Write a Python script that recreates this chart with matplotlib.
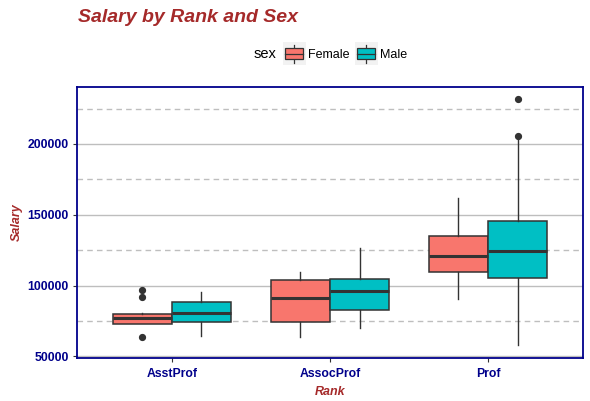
import matplotlib.pyplot as plt
from matplotlib.legend_handler import HandlerBase
from matplotlib.patches import Rectangle
from matplotlib.lines import Line2D

plt.rcParams['font.family'] = ['Liberation Sans', 'DejaVu Sans']

ranks = ['AsstProf', 'AssocProf', 'Prof']
sexes = ['Female', 'Male']
colors = ['#F8766D', '#00BFC4']

# box stats
female_q1 = [73200, 74000, 109900]
female_med = [77200, 91300, 120800]
female_q3 = [79800, 104200, 135200]
female_lo = [73200, 63400, 90600]
female_hi = [80700, 109900, 161500]
female_fliers = [[97200, 92300, 63400], [], []]

male_q1 = [74600, 83100, 105600]
male_med = [80700, 96200, 124200]
male_q3 = [88700, 104900, 145800]
male_lo = [64500, 70400, 58200]
male_hi = [95300, 126800, 205000]
male_fliers = [[], [], [231600, 205600]]

ink = '#333333'
navy = '#00008B'
brown = '#A52A2A'


def make_stats(q1, med, q3, lo, hi, fl):
    return [dict(q1=a, med=b, q3=c, whislo=d, whishi=e, fliers=f)
            for a, b, c, d, e, f in zip(q1, med, q3, lo, hi, fl)]


class BoxKey(HandlerBase):
    def create_artists(self, legend, orig_handle, xdescent, ydescent,
                       width, height, fontsize, trans):
        x0, y0 = -xdescent, -ydescent
        bg = Rectangle((x0, y0), width, height, facecolor='#F2F2F2',
                       edgecolor='none', transform=trans)
        vl = Line2D([x0 + width / 2] * 2, [y0 + height * 0.1, y0 + height * 0.9],
                    color=ink, lw=0.9, transform=trans)
        box = Rectangle((x0 + width * 0.12, y0 + height * 0.25), width * 0.76,
                        height * 0.5, facecolor=orig_handle.get_facecolor(),
                        edgecolor=ink, lw=0.9, transform=trans)
        md = Line2D([x0 + width * 0.12, x0 + width * 0.88], [y0 + height / 2] * 2,
                    color=ink, lw=0.9, transform=trans)
        return [bg, vl, box, md]


fig = plt.figure(figsize=(5.9, 4.01), dpi=100)
ax = fig.add_axes([0.1305, 0.108, 0.8575, 0.675])

all_stats = [make_stats(female_q1, female_med, female_q3, female_lo, female_hi, female_fliers),
             make_stats(male_q1, male_med, male_q3, male_lo, male_hi, male_fliers)]
offsets = [-0.1875, 0.1875]
for stats, off, col in zip(all_stats, offsets, colors):
    pos = [i + 1 + off for i in range(len(ranks))]
    ax.bxp(stats, positions=pos, widths=0.375, patch_artist=True, showcaps=False,
           boxprops=dict(facecolor=col, edgecolor=ink, lw=1.1),
           medianprops=dict(color=ink, lw=2.2),
           whiskerprops=dict(color=ink, lw=1.0),
           flierprops=dict(marker='o', markersize=4.2, markerfacecolor=ink,
                           markeredgecolor=ink),
           zorder=3)

ax.set_xlim(0.4, 3.6)
ax.set_ylim(49100, 240200)
ax.set_xticks([1, 2, 3])
ax.set_xticklabels(ranks)
ax.set_yticks([50000, 100000, 150000, 200000])
ax.set_yticks([75000, 125000, 175000, 225000], minor=True)
ax.grid(axis='y', which='major', color='#BEBEBE', lw=1.0, zorder=0)
ax.grid(axis='y', which='minor', color='#BEBEBE', lw=1.0, ls=(0, (4, 3)), zorder=0)
ax.grid(axis='x', which='major', color='white', lw=1.0, zorder=0)
ax.set_axisbelow(True)
ax.tick_params(axis='both', which='major', length=3, color=ink, width=0.8,
               labelsize=8.8, labelcolor=navy)
ax.tick_params(axis='x', pad=4.5)
ax.tick_params(axis='y', pad=3)
ax.tick_params(axis='y', which='minor', length=0)
for lab in ax.get_xticklabels() + ax.get_yticklabels():
    lab.set_fontweight('bold')
for sp in ax.spines.values():
    sp.set_color(navy)
    sp.set_linewidth(1.3)

ax.set_xlabel('Rank', color=brown, fontsize=9, fontweight='bold', style='italic', labelpad=4)
ax.set_ylabel('Salary', color=brown, fontsize=9, fontweight='bold', style='italic', labelpad=3.5)

fig.text(0.132, 0.957, 'Salary by Rank and Sex', color=brown, fontsize=14,
         fontweight='bold', style='italic', va='center', ha='left')

handles = [Rectangle((0, 0), 1, 1, facecolor=c) for c in colors]
fig.text(0.430, 0.866, 'sex', fontsize=10.5, va='center', ha='left')
fig.legend(handles, sexes, handler_map={Rectangle: BoxKey()}, ncol=2,
           loc='center left', bbox_to_anchor=(0.479, 0.866), frameon=False,
           fontsize=9, handlelength=1.84, handleheight=2.45, handletextpad=0.2,
           columnspacing=0.4, borderpad=0, borderaxespad=0)

fig.savefig('out.png', dpi=100)
